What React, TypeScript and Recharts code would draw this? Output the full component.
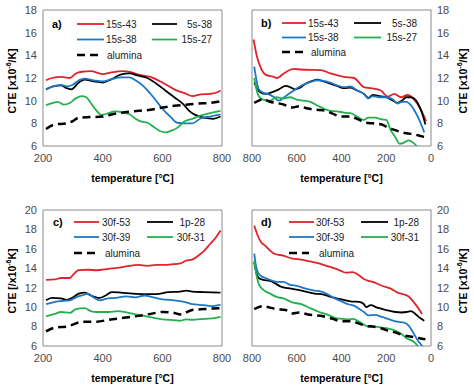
import React from 'react';
import { LineChart, Line, XAxis, YAxis, ReferenceArea } from 'recharts';

type Pair = [number, number];

// a) heating, 15s samples
const a15s43: Pair[] = [[210, 11.8], [230, 12.0], [260, 12.1], [290, 12.0], [310, 12.4], [330, 12.55], [360, 12.6], [400, 12.35], [430, 12.5], [470, 12.6], [490, 12.55], [520, 12.3], [560, 12.1], [600, 11.6], [640, 11.0], [680, 10.6], [700, 10.4], [730, 10.55], [760, 10.6], [780, 10.7], [795, 10.9]];
const a5s38: Pair[] = [[210, 11.0], [240, 11.3], [260, 11.35], [280, 11.1], [295, 11.0], [320, 11.6], [340, 11.85], [370, 11.7], [400, 11.6], [430, 11.9], [460, 12.3], [490, 12.4], [520, 12.2], [550, 12.0], [580, 11.5], [610, 10.9], [640, 10.3], [670, 9.7], [690, 9.1], [710, 8.75], [740, 8.5], [770, 8.4], [795, 8.6]];
const a15s38: Pair[] = [[210, 11.0], [240, 11.3], [260, 11.4], [280, 11.25], [300, 11.4], [320, 11.8], [340, 11.95], [370, 11.8], [400, 11.7], [430, 11.9], [460, 12.05], [490, 12.05], [510, 11.8], [540, 11.2], [570, 10.3], [600, 9.3], [630, 8.5], [650, 8.05], [680, 8.0], [700, 8.0], [730, 8.45], [760, 8.6], [795, 8.8]];
const a15s27: Pair[] = [[210, 9.6], [240, 9.85], [250, 9.9], [270, 9.65], [290, 9.8], [310, 10.2], [330, 10.4], [345, 10.3], [360, 9.8], [380, 9.1], [395, 8.75], [420, 8.9], [440, 9.05], [470, 8.95], [490, 8.8], [510, 8.4], [530, 8.15], [550, 8.05], [570, 7.7], [590, 7.35], [610, 7.2], [630, 7.35], [650, 7.6], [670, 8.1], [700, 8.4], [730, 8.7], [760, 8.9], [795, 9.1]];
const aAlumina: Pair[] = [[210, 7.5], [240, 7.9], [280, 8.0], [300, 8.2], [320, 8.5], [360, 8.55], [400, 8.6], [440, 8.85], [480, 9.0], [520, 9.1], [560, 9.2], [600, 9.4], [640, 9.55], [680, 9.65], [720, 9.75], [760, 9.8], [795, 9.95]];

// b) cooling, 15s samples
const b15s43: Pair[] = [[793, 15.4], [778, 13.9], [763, 13.0], [740, 12.3], [703, 12.1], [688, 12.0], [658, 12.4], [613, 12.8], [583, 12.75], [493, 12.7], [449, 12.4], [389, 12.1], [344, 12.0], [300, 11.2], [269, 11.1], [224, 10.9], [194, 10.35], [164, 10.6], [134, 10.3], [105, 10.5], [75, 10.1], [45, 9.2], [22, 8.2]];
const b5s38: Pair[] = [[790, 11.6], [775, 11.0], [760, 10.7], [740, 10.6], [710, 10.75], [680, 11.0], [650, 11.3], [630, 11.2], [610, 11.0], [590, 11.1], [560, 11.5], [530, 11.75], [510, 11.85], [480, 11.7], [450, 11.5], [420, 11.3], [390, 11.1], [360, 11.15], [330, 10.9], [300, 10.6], [280, 10.25], [260, 10.5], [230, 10.4], [200, 10.3], [170, 10.0], [150, 9.8], [130, 10.0], [110, 10.3], [90, 10.3], [70, 10.1], [50, 9.4], [35, 8.6], [25, 7.9]];
const b15s38: Pair[] = [[790, 13.0], [780, 11.8], [770, 11.0], [750, 10.7], [730, 10.6], [700, 10.3], [680, 10.0], [650, 10.4], [620, 10.8], [590, 11.2], [560, 11.5], [530, 11.7], [510, 11.8], [480, 11.75], [450, 11.6], [420, 11.35], [390, 11.2], [360, 11.25], [330, 10.9], [300, 10.6], [280, 10.2], [260, 10.4], [230, 10.3], [200, 10.3], [170, 10.1], [150, 9.75], [130, 9.9], [110, 9.9], [90, 9.6], [70, 9.0], [50, 8.2], [30, 7.2]];
const b15s27: Pair[] = [[790, 12.0], [780, 11.0], [770, 10.4], [750, 10.1], [720, 10.0], [690, 10.3], [660, 10.2], [630, 10.3], [600, 10.1], [570, 10.0], [540, 9.9], [510, 9.6], [480, 9.3], [450, 9.1], [420, 9.05], [390, 8.95], [360, 8.9], [330, 8.6], [300, 8.3], [280, 8.5], [250, 8.5], [220, 8.35], [200, 8.3], [180, 7.4], [160, 6.8], [140, 6.2], [120, 6.3], [100, 6.5], [80, 6.3], [60, 5.9], [50, 5.6]];
const bAlumina: Pair[] = [[790, 9.8], [770, 10.0], [750, 10.15], [720, 9.9], [690, 9.8], [650, 9.6], [620, 9.4], [590, 9.5], [550, 9.3], [510, 9.2], [470, 9.1], [440, 8.85], [400, 8.6], [360, 8.6], [320, 8.3], [290, 8.05], [260, 8.0], [220, 7.9], [190, 7.6], [160, 7.4], [130, 7.2], [100, 7.1], [70, 7.0], [40, 6.85], [25, 6.8]];

// c) heating, 30f / 1p samples
const c30f53: Pair[] = [[210, 12.8], [240, 12.85], [260, 13.0], [290, 13.0], [300, 13.3], [320, 13.8], [350, 13.85], [380, 13.8], [420, 13.95], [450, 14.05], [480, 14.2], [520, 14.35], [550, 14.25], [580, 14.35], [610, 14.35], [630, 14.4], [660, 14.5], [680, 14.8], [700, 14.9], [720, 15.3], [740, 15.8], [760, 16.5], [780, 17.2], [795, 17.9]];
const c1p28: Pair[] = [[210, 10.7], [230, 10.95], [260, 10.9], [280, 10.75], [300, 11.0], [320, 11.4], [340, 11.5], [360, 11.2], [390, 10.95], [410, 11.2], [430, 11.55], [460, 11.5], [500, 11.4], [540, 11.35], [580, 11.35], [620, 11.55], [660, 11.6], [680, 11.7], [700, 11.6], [740, 11.55], [795, 11.5]];
const c30f39: Pair[] = [[210, 10.3], [240, 10.55], [270, 10.65], [290, 10.7], [310, 11.0], [340, 11.3], [350, 11.4], [370, 11.0], [390, 10.7], [410, 10.85], [440, 10.95], [480, 11.1], [510, 11.0], [540, 11.2], [570, 11.0], [600, 10.8], [640, 10.7], [680, 10.5], [700, 10.3], [740, 10.2], [770, 10.1], [795, 10.25]];
const c30f31: Pair[] = [[210, 9.05], [240, 9.3], [260, 9.5], [290, 9.4], [310, 9.8], [340, 9.9], [360, 9.6], [380, 9.5], [420, 9.5], [450, 9.6], [480, 9.45], [510, 9.25], [540, 9.1], [570, 8.9], [600, 8.75], [640, 8.65], [660, 8.6], [680, 8.75], [700, 8.7], [740, 8.8], [780, 8.9], [795, 9.0]];
const cAlumina: Pair[] = [[210, 7.5], [240, 7.9], [280, 8.0], [300, 8.2], [330, 8.5], [380, 8.5], [420, 8.7], [470, 8.9], [520, 9.1], [560, 9.3], [600, 9.5], [640, 9.4], [660, 9.25], [700, 9.7], [740, 9.8], [795, 9.9]];

// d) cooling, 30f / 1p samples
const d30f53: Pair[] = [[790, 18.4], [775, 17.4], [760, 16.7], [740, 16.3], [700, 15.5], [660, 15.3], [620, 15.0], [580, 14.9], [540, 14.7], [500, 14.5], [460, 14.2], [430, 14.0], [400, 13.7], [380, 13.55], [350, 13.6], [330, 13.4], [300, 12.9], [280, 12.7], [260, 12.6], [220, 12.2], [180, 11.9], [150, 11.5], [120, 11.3], [100, 11.1], [80, 10.6], [60, 10.0], [40, 9.3]];
const d1p28: Pair[] = [[790, 14.6], [780, 13.5], [770, 13.0], [750, 12.8], [720, 12.7], [700, 12.5], [670, 12.1], [640, 11.95], [600, 11.8], [560, 11.6], [520, 11.4], [480, 11.3], [440, 11.0], [400, 10.8], [360, 10.6], [320, 10.55], [300, 10.3], [290, 10.0], [270, 10.2], [240, 9.95], [200, 9.7], [160, 9.5], [130, 9.45], [110, 9.5], [90, 9.6], [70, 9.3], [50, 8.9], [30, 8.6]];
const d30f39: Pair[] = [[790, 15.5], [780, 14.0], [765, 13.3], [740, 13.0], [720, 12.8], [690, 12.6], [660, 12.6], [630, 12.3], [600, 12.2], [560, 11.9], [520, 11.7], [490, 11.6], [460, 11.3], [430, 10.9], [400, 10.6], [370, 10.3], [340, 10.1], [320, 9.8], [300, 9.5], [280, 9.15], [250, 9.2], [220, 9.0], [180, 8.7], [150, 8.5], [120, 8.4], [100, 8.1], [80, 7.4], [60, 6.6], [40, 6.0], [30, 5.6]];
const d30f31: Pair[] = [[790, 14.8], [780, 13.3], [770, 12.4], [750, 11.8], [720, 11.4], [690, 11.05], [660, 10.9], [620, 10.5], [580, 10.3], [540, 9.9], [500, 9.5], [460, 9.2], [430, 8.9], [400, 8.8], [370, 8.75], [350, 8.8], [320, 8.5], [300, 8.2], [280, 8.0], [250, 8.0], [220, 7.9], [190, 7.8], [160, 7.6], [130, 7.2], [110, 6.8], [90, 6.6], [75, 6.4], [60, 6.0], [50, 5.6]];
const dAlumina: Pair[] = [[790, 9.8], [770, 10.0], [750, 10.1], [720, 9.95], [690, 9.8], [650, 9.7], [620, 9.35], [590, 9.45], [550, 9.25], [510, 9.15], [470, 9.0], [440, 8.8], [400, 8.55], [360, 8.55], [320, 8.3], [290, 8.05], [260, 8.0], [220, 7.8], [190, 7.55], [160, 7.4], [130, 7.15], [100, 7.0], [70, 6.9], [40, 6.75], [25, 6.7]];

const heatTicks = [200, 400, 600, 800];
const heatMinor = [200, 300, 400, 500, 600, 700, 800];
const coolTicks = [0, 200, 400, 600, 800];
const coolMinor = [0, 100, 200, 300, 400, 500, 600, 700, 800];
const yTicks18 = [6, 8, 10, 12, 14, 16, 18];
const yMinor18 = [6, 7, 8, 9, 10, 11, 12, 13, 14, 15, 16, 17, 18];
const yTicks20 = [6, 8, 10, 12, 14, 16, 18, 20];
const yMinor20 = [6, 7, 8, 9, 10, 11, 12, 13, 14, 15, 16, 17, 18, 19, 20];

const RED = '#e0232a';
const BLACK = '#000000';
const BLUE = '#1f78c6';
const GREEN = '#22b14c';
const AXIS = '#8a8a8a';
const FONT = '"Liberation Sans", Arial, sans-serif';

type Series = { name: string; color: string; dashed?: boolean; data: Pair[] };

const toPts = (arr: Pair[]) => arr.map(([t, v]) => ({ t, v }));

const YTitle = (props: any) => {
  const { viewBox, right, slashFirst } = props;
  const vb = viewBox || { x: 0, y: 0, width: 43, height: 136 };
  const cx = right ? vb.x + vb.width - 11 : vb.x + 12;
  const cy = vb.y + vb.height / 2 + 3;
  return (
    <text x={cx} y={cy} transform={`rotate(-90 ${cx} ${cy})`} textAnchor="middle" dominantBaseline="central"
      fontSize={10.5} fontWeight="bold" fill="#000" fontFamily={FONT}>
      {slashFirst ? 'CTE [/x10' : 'CTE [x10'}
      <tspan fontSize={7} dy={-4}>-6</tspan>
      <tspan dy={4}>{slashFirst ? 'K]' : '/K]'}</tspan>
    </text>
  );
};

const XTitle = (props: any) => {
  const vb = props.viewBox || { x: 43, y: 146, width: 179, height: 44 };
  return (
    <text x={vb.x + vb.width / 2} y={vb.y + 32} textAnchor="middle" dominantBaseline="central"
      fontSize={10.5} fontWeight="bold" fill="#000" fontFamily={FONT}>
      temperature [°C]
    </text>
  );
};

type LegendLayout = { tagX: number; rows: number[]; c1: [number, number]; t1: number; c2: [number, number]; t2: number; dash: [number, number]; tA: number };

const PanelLegend = ({ tag, series, lay, w, h }: { tag: string; series: Series[]; lay: LegendLayout; w: number; h: number }) => (
  <svg width={w} height={h} style={{ position: 'absolute', left: 0, top: 0, pointerEvents: 'none' }} fontFamily={FONT}>
    <text x={lay.tagX} y={lay.rows[0]} dominantBaseline="central" fontSize={11} fontWeight="bold" fill="#000">{tag}</text>
    {series.map((s, i) => {
      const row = s.dashed ? 2 : Math.floor(i / 2);
      const col = s.dashed ? 0 : i % 2;
      const y = lay.rows[row];
      const seg = s.dashed ? lay.dash : col === 0 ? lay.c1 : lay.c2;
      return (
        <g key={s.name}>
          <line x1={seg[0]} x2={seg[1]} y1={y} y2={y} stroke={s.color} strokeWidth={s.dashed ? 2.5 : 1.8}
            strokeDasharray={s.dashed ? '8 5' : undefined} />
          <text x={s.dashed ? lay.tA : col === 0 ? lay.t1 : lay.t2} y={y} dominantBaseline="central"
            textAnchor={col === 1 ? 'end' : 'start'} fontSize={10} fill="#222">{s.name}</text>
        </g>
      );
    })}
  </svg>
);

type PanelProps = {
  tag: string;
  series: Series[];
  left: number;
  top: number;
  height: number;
  marginTop: number;
  cooling: boolean;
  yMax: number;
  slashFirst?: boolean;
  lay: LegendLayout;
};

const Panel = ({ tag, series, left, top, height, marginTop, cooling, yMax, slashFirst, lay }: PanelProps) => {
  const w = 237;
  const xDomain: [number, number] = cooling ? [0, 800] : [200, 800];
  const yT = yMax === 18 ? yTicks18 : yTicks20;
  const yM = yMax === 18 ? yMinor18 : yMinor20;
  const tickStyle = { fontSize: 11, fill: '#4a4a4a', fontFamily: FONT };
  return (
    <div style={{ position: 'absolute', left, top, width: w, height }}>
      <LineChart width={w} height={height}
        margin={{ top: marginTop, right: cooling ? 0 : 15, left: cooling ? 15 : 0, bottom: 0 }}>
        <XAxis dataKey="t" type="number" domain={xDomain} reversed={cooling} ticks={cooling ? coolTicks : heatTicks}
          allowDataOverflow axisLine={false} tickLine={false} tickSize={4} tickMargin={4} tick={tickStyle}
          height={height - marginTop - 136} label={<XTitle />} />
        <XAxis xAxisId="m" dataKey="t" type="number" domain={xDomain} reversed={cooling} ticks={cooling ? coolMinor : heatMinor}
          mirror axisLine={false} tick={false} tickSize={4} tickLine={{ stroke: AXIS }} />
        <YAxis type="number" domain={[6, yMax]} ticks={yT} orientation={cooling ? 'right' : 'left'} allowDataOverflow
          axisLine={false} tickLine={false} tickSize={4} tickMargin={2} tick={tickStyle} width={43}
          label={<YTitle right={cooling} slashFirst={slashFirst} />} />
        <YAxis yAxisId="m" type="number" domain={[6, yMax]} ticks={yM} orientation={cooling ? 'right' : 'left'}
          mirror axisLine={false} tick={false} tickSize={4} tickLine={{ stroke: AXIS }} width={43} />
        <ReferenceArea x1={xDomain[0]} x2={xDomain[1]} y1={6} y2={yMax} fill="none" stroke={AXIS} strokeWidth={1} />
        {series.map((s) => (
          <Line key={s.name} data={toPts(s.data)} dataKey="v" type="monotone" stroke={s.color}
            strokeWidth={s.dashed ? 2.5 : 1.8} strokeDasharray={s.dashed ? '8 5' : undefined}
            dot={false} activeDot={false} isAnimationActive={false} />
        ))}
      </LineChart>
      <PanelLegend tag={tag} series={series} lay={lay} w={w} h={height} />
    </div>
  );
};

const seriesA: Series[] = [
  { name: '15s-43', color: RED, data: a15s43 },
  { name: '5s-38', color: BLACK, data: a5s38 },
  { name: '15s-38', color: BLUE, data: a15s38 },
  { name: '15s-27', color: GREEN, data: a15s27 },
  { name: 'alumina', color: BLACK, dashed: true, data: aAlumina },
];
const seriesB: Series[] = [
  { name: '15s-43', color: RED, data: b15s43 },
  { name: '5s-38', color: BLACK, data: b5s38 },
  { name: '15s-38', color: BLUE, data: b15s38 },
  { name: '15s-27', color: GREEN, data: b15s27 },
  { name: 'alumina', color: BLACK, dashed: true, data: bAlumina },
];
const seriesC: Series[] = [
  { name: '30f-53', color: RED, data: c30f53 },
  { name: '1p-28', color: BLACK, data: c1p28 },
  { name: '30f-39', color: BLUE, data: c30f39 },
  { name: '30f-31', color: GREEN, data: c30f31 },
  { name: 'alumina', color: BLACK, dashed: true, data: cAlumina },
];
const seriesD: Series[] = [
  { name: '30f-53', color: RED, data: d30f53 },
  { name: '1p-28', color: BLACK, data: d1p28 },
  { name: '30f-39', color: BLUE, data: d30f39 },
  { name: '30f-31', color: GREEN, data: d30f31 },
  { name: 'alumina', color: BLACK, dashed: true, data: dAlumina },
];

export default function App() {
  return (
    <div style={{ position: 'absolute', left: 0, top: 0, width: 474, height: 385, background: '#fff', overflow: 'hidden' }}>
      <Panel tag="a)" series={seriesA} left={0} top={0} height={190} marginTop={10} cooling={false} yMax={18}
        lay={{ tagX: 52, rows: [24, 39.5, 55], c1: [77, 104], t1: 106, c2: [152, 177], t2: 212, dash: [77, 98], tA: 107 }} />
      <Panel tag="b)" series={seriesB} left={237} top={0} height={190} marginTop={10} cooling yMax={18}
        lay={{ tagX: 24, rows: [23, 37.5, 52], c1: [45, 69], t1: 71, c2: [117, 144], t2: 180, dash: [45, 67], tA: 74 }} />
      <Panel tag="c)" series={seriesC} left={0} top={190} height={195} marginTop={20} cooling={false} yMax={20} slashFirst
        lay={{ tagX: 53, rows: [32, 47, 63], c1: [74, 99], t1: 102, c2: [147, 173], t2: 205, dash: [74, 97], tA: 105 }} />
      <Panel tag="d)" series={seriesD} left={237} top={190} height={195} marginTop={20} cooling yMax={20}
        lay={{ tagX: 24, rows: [32, 47, 63], c1: [52, 77], t1: 79, c2: [124, 151], t2: 182, dash: [52, 72], tA: 82 }} />
    </div>
  );
}
